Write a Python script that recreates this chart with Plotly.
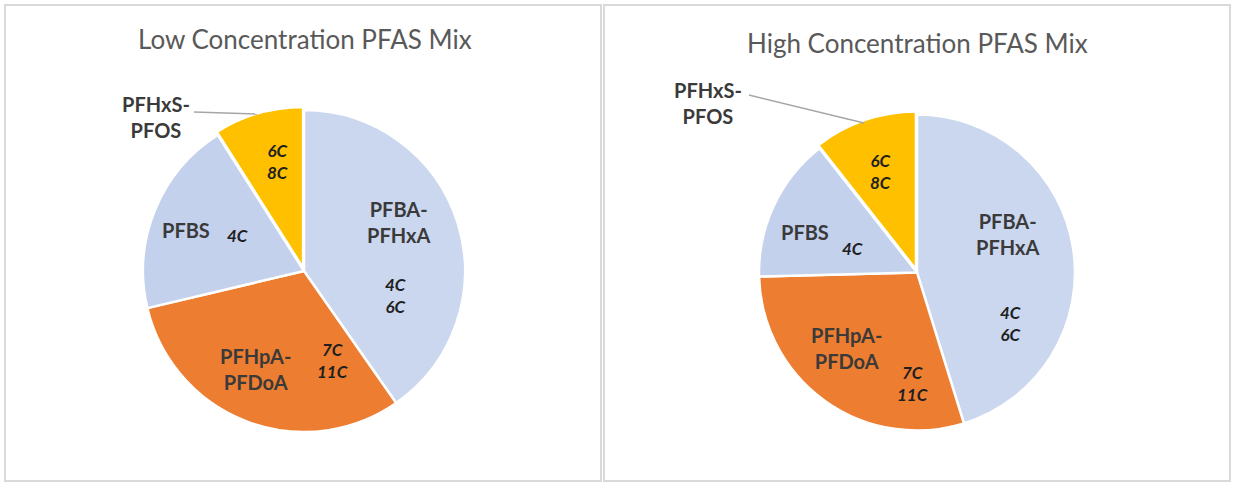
import plotly.graph_objects as go

# ---- data ----
groups = ["PFBA-PFHxA", "PFHpA-PFDoA", "PFBS", "PFHxS-PFOS"]
name_labels = ["PFBA-<br>PFHxA", "PFHpA-<br>PFDoA", "PFBS", "PFHxS-<br>PFOS"]
carbon_labels = ["4C<br>6C", "7C<br>11C", "4C", "6C<br>8C"]
low_values = [40.3, 31.0, 19.7, 9.0]
high_values = [45.2, 29.4, 14.8, 10.6]
titles = ["Low Concentration PFAS Mix", "High Concentration PFAS Mix"]

# ---- styles ----
W, H = 1234, 486
colors = ["#cad7ef", "#ed7d31", "#c3d1ed", "#ffc000"]
pulls = [0, 0, 0, 0.02]


def px(x):
    return x / W


def py(y):
    return 1 - y / H


def domain(cx, cy, r, pull=0.02):
    half = r * (1 + pull)
    return dict(x=[px(cx - half), px(cx + half)], y=[py(cy + half), py(cy - half)])


fig = go.Figure()
for vals, (cx, cy, r) in zip([low_values, high_values], [(304, 271, 161), (917, 272.5, 158)]):
    fig.add_trace(go.Pie(
        labels=groups, values=vals, sort=False, direction="clockwise", rotation=0,
        marker=dict(colors=colors, line=dict(color="white", width=2.5)),
        pull=pulls, textinfo="none", hoverinfo="label+value", showlegend=False,
        domain=domain(cx, cy, r),
    ))

name_font = dict(family="Lato", size=20, color="#3a3a3a", weight="bold")
carbon_font = dict(family="Lato", size=17, color="#1f1f1f")

# label positions (pixel centres) per panel: [name, carbon] for each group
label_pos = [
    {"names": [(399, 222), (255, 369), (186, 230), (156, 117)],
     "carbons": [(395, 295), (332, 360), (237, 235), (277, 161)],
     "title": (305, 39), "leader": [(194, 112), (257, 114)]},
    {"names": [(1008, 234), (846, 348), (805, 232), (708, 103)],
     "carbons": [(1010, 323), (912, 383), (853, 248), (880, 171)],
     "title": (917, 43), "leader": [(749, 95), (864, 123)]},
]

annotations = []
shapes = []
for i, pos in enumerate(label_pos):
    tx, ty = pos["title"]
    annotations.append(dict(text=titles[i], x=px(tx), y=py(ty), xref="paper", yref="paper",
                            showarrow=False, xanchor="center", yanchor="middle",
                            font=dict(family="Lato", size=26, color="#595959")))
    for j in range(len(groups)):
        nx, ny = pos["names"][j]
        annotations.append(dict(text=name_labels[j], x=px(nx), y=py(ny), xref="paper", yref="paper",
                                showarrow=False, xanchor="center", yanchor="middle", font=name_font))
        cx_, cy_ = pos["carbons"][j]
        annotations.append(dict(text="<b><i>" + carbon_labels[j] + "</i></b>", x=px(cx_), y=py(cy_),
                                xref="paper", yref="paper", showarrow=False,
                                xanchor="center", yanchor="middle", font=carbon_font))
    (x0, y0), (x1, y1) = pos["leader"]
    shapes.append(dict(type="line", xref="paper", yref="paper", x0=px(x0), y0=py(y0),
                       x1=px(x1), y1=py(y1), line=dict(color="#a6a6a6", width=1.5)))

# panel borders
for (x0, x1) in [(5, 601), (604, 1230)]:
    shapes.append(dict(type="rect", xref="paper", yref="paper", x0=px(x0), x1=px(x1),
                       y0=py(481), y1=py(5), line=dict(color="#d9d9d9", width=2), layer="below"))

fig.update_layout(
    width=W, height=H, margin=dict(l=0, r=0, t=0, b=0),
    paper_bgcolor="white", plot_bgcolor="white",
    annotations=annotations, shapes=shapes,
)

fig.write_html("out.html", config={"displayModeBar": False},
               post_script="document.body.style.margin='0';document.body.style.overflow='hidden';")
